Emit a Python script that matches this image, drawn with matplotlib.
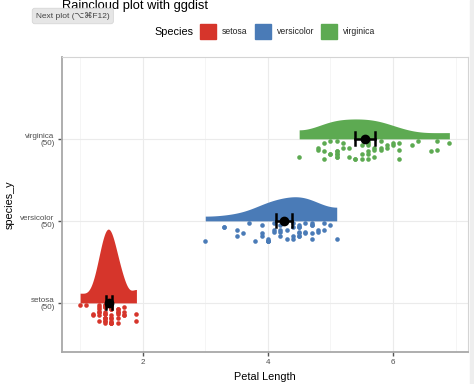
import numpy as np
import matplotlib.pyplot as plt
from matplotlib.patches import Rectangle

plt.rcParams['font.family'] = ['Liberation Sans', 'DejaVu Sans']

species = ["setosa", "versicolor", "virginica"]
colors = ["#D6352B", "#4A7BB7", "#5DAA52"]
counts = [50, 50, 50]

# iris petal lengths
setosa = [1.4, 1.4, 1.3, 1.5, 1.4, 1.7, 1.4, 1.5, 1.4, 1.5, 1.5, 1.6, 1.4, 1.1, 1.2,
          1.5, 1.3, 1.4, 1.7, 1.5, 1.7, 1.5, 1.0, 1.7, 1.9, 1.6, 1.6, 1.5, 1.4, 1.6,
          1.6, 1.5, 1.5, 1.4, 1.5, 1.2, 1.3, 1.4, 1.3, 1.5, 1.3, 1.3, 1.3, 1.6, 1.9,
          1.4, 1.6, 1.4, 1.5, 1.4]
versicolor = [4.7, 4.5, 4.9, 4.0, 4.6, 4.5, 4.7, 3.3, 4.6, 3.9, 3.5, 4.2, 4.0, 4.7, 3.6,
              4.4, 4.5, 4.1, 4.5, 3.9, 4.8, 4.0, 4.9, 4.7, 4.3, 4.4, 4.8, 5.0, 4.5, 3.5,
              3.8, 3.7, 3.9, 5.1, 4.5, 4.5, 4.7, 4.4, 4.1, 4.0, 4.4, 4.6, 4.0, 3.3, 4.2,
              4.2, 4.2, 4.3, 3.0, 4.1]
virginica = [6.0, 5.1, 5.9, 5.6, 5.8, 6.6, 4.5, 6.3, 5.8, 6.1, 5.1, 5.3, 5.5, 5.0, 5.1,
             5.3, 5.5, 6.7, 6.9, 5.0, 5.7, 4.9, 6.7, 4.9, 5.7, 6.0, 4.8, 4.9, 5.6, 5.8,
             6.1, 6.4, 5.6, 5.1, 5.6, 6.1, 5.6, 5.5, 4.8, 5.4, 5.6, 5.1, 5.1, 5.9, 5.7,
             5.2, 5.0, 5.2, 5.4, 5.1]
groups = [setosa, versicolor, virginica]

bandwidths = [0.085, 0.26, 0.3]
x_ticks = [2, 4, 6]
x_minor = [1, 3, 5, 7]
jitter_levels = [0.05, 0.19, 0.11, 0.25, 0.03, 0.15, 0.22, 0.08, 0.13]
t_crit = 2.0096  # t(0.975, 49)


def bounded_kde(data, bw, grid):
    a, b = data.min(), data.max()
    d = np.zeros_like(grid)
    for pts in (data, 2 * a - data, 2 * b - data):
        z = (grid[:, None] - pts[None, :]) / bw
        d += np.exp(-0.5 * z ** 2).sum(axis=1)
    return d / (len(data) * bw * np.sqrt(2 * np.pi))


fig = plt.figure(figsize=(4.74, 3.84), dpi=100)
ax = fig.add_axes([0.130, 0.083, 0.857, 0.769])

dens = []
for vals, bw in zip(groups, bandwidths):
    v = np.array(vals)
    g = np.linspace(v.min(), v.max(), 300)
    dens.append((g, bounded_kde(v, bw, g)))
peak = max(d.max() for _, d in dens)

for k, (vals, col, (g, d)) in enumerate(zip(groups, colors, dens), start=1):
    v = np.array(vals)
    ax.fill_between(g, k, k + d / peak * 0.9, color=col, lw=0, zorder=2)
    offs = [jitter_levels[i % len(jitter_levels)] for i in range(len(v))]
    ax.plot(v, k - np.array(offs), 'o', ms=3.3, color=col, mec='none', zorder=3)
    m = v.mean()
    ci = t_crit * v.std(ddof=1) / np.sqrt(len(v))
    ax.plot([m - ci, m + ci], [k, k], color='black', lw=1.8, zorder=4)
    for e in (m - ci, m + ci):
        ax.plot([e, e], [k - 0.08, k + 0.08], color='black', lw=1.8, zorder=4)
    ax.plot(m, k, 'o', ms=6, color='black', zorder=5)

ax.set_xlim(0.705, 7.195)
ax.set_ylim(0.4, 4.0)
ax.set_xticks(x_ticks)
ax.set_xticks(x_minor, minor=True)
ax.set_yticks([1, 2, 3])
ax.set_yticklabels([f"{s}\n({n})" for s, n in zip(species, counts)],
                   ha='right', multialignment='right', linespacing=1.0)
ax.grid(which='major', color='#EBEBEB', lw=0.8, zorder=0)
ax.grid(which='minor', axis='x', color='#F2F2F2', lw=0.5, zorder=0)
ax.set_axisbelow(True)
ax.tick_params(which='major', length=3, width=1, color='#555555',
               labelsize=5.8, labelcolor='#4D4D4D', pad=2)
ax.tick_params(which='minor', length=0)
for s in ('left', 'bottom'):
    ax.spines[s].set_color('#A8A8A8')
    ax.spines[s].set_linewidth(1.3)
for s in ('top', 'right'):
    ax.spines[s].set_color('#D4D4D4')
    ax.spines[s].set_linewidth(0.8)
ax.set_xlabel("Petal Length", fontsize=7.8, labelpad=4)
ax.set_ylabel("species_y", fontsize=7.8, labelpad=4)

# title (clipped at top as in the screenshot)
fig.text(62 / 474, 1 - 9 / 384, "Raincloud plot with ggdist", fontsize=9.3,
         ha='left', va='baseline')

# legend
ly = 1 - 32 / 384
fig.text(154 / 474, ly, "Species", fontsize=7.8, va='center')
for x0, col, lab in zip([200, 255, 321], colors, species):
    fig.patches.append(Rectangle((x0 / 474, 1 - 39 / 384), 16 / 474, 15 / 384,
                                 transform=fig.transFigure, color=col))
    fig.text((x0 + 22) / 474, ly, lab, fontsize=6.2, va='center', color='#222222')

# viewer tooltip
fig.text(36 / 474, 1 - 18 / 384, "Next plot (\u2325\u2318F12)", fontsize=6,
         color='#444444', va='baseline',
         bbox=dict(boxstyle='round,pad=0.45,rounding_size=0.3', fc='#E6E6E6',
                   ec='#D6D6D6', lw=0.6))

# right edge shading of the viewer
fig.patches.append(Rectangle((470 / 474, 0), 4 / 474, 1, transform=fig.transFigure,
                             color='#EEEEEE'))

fig.savefig("out.png", dpi=100)
